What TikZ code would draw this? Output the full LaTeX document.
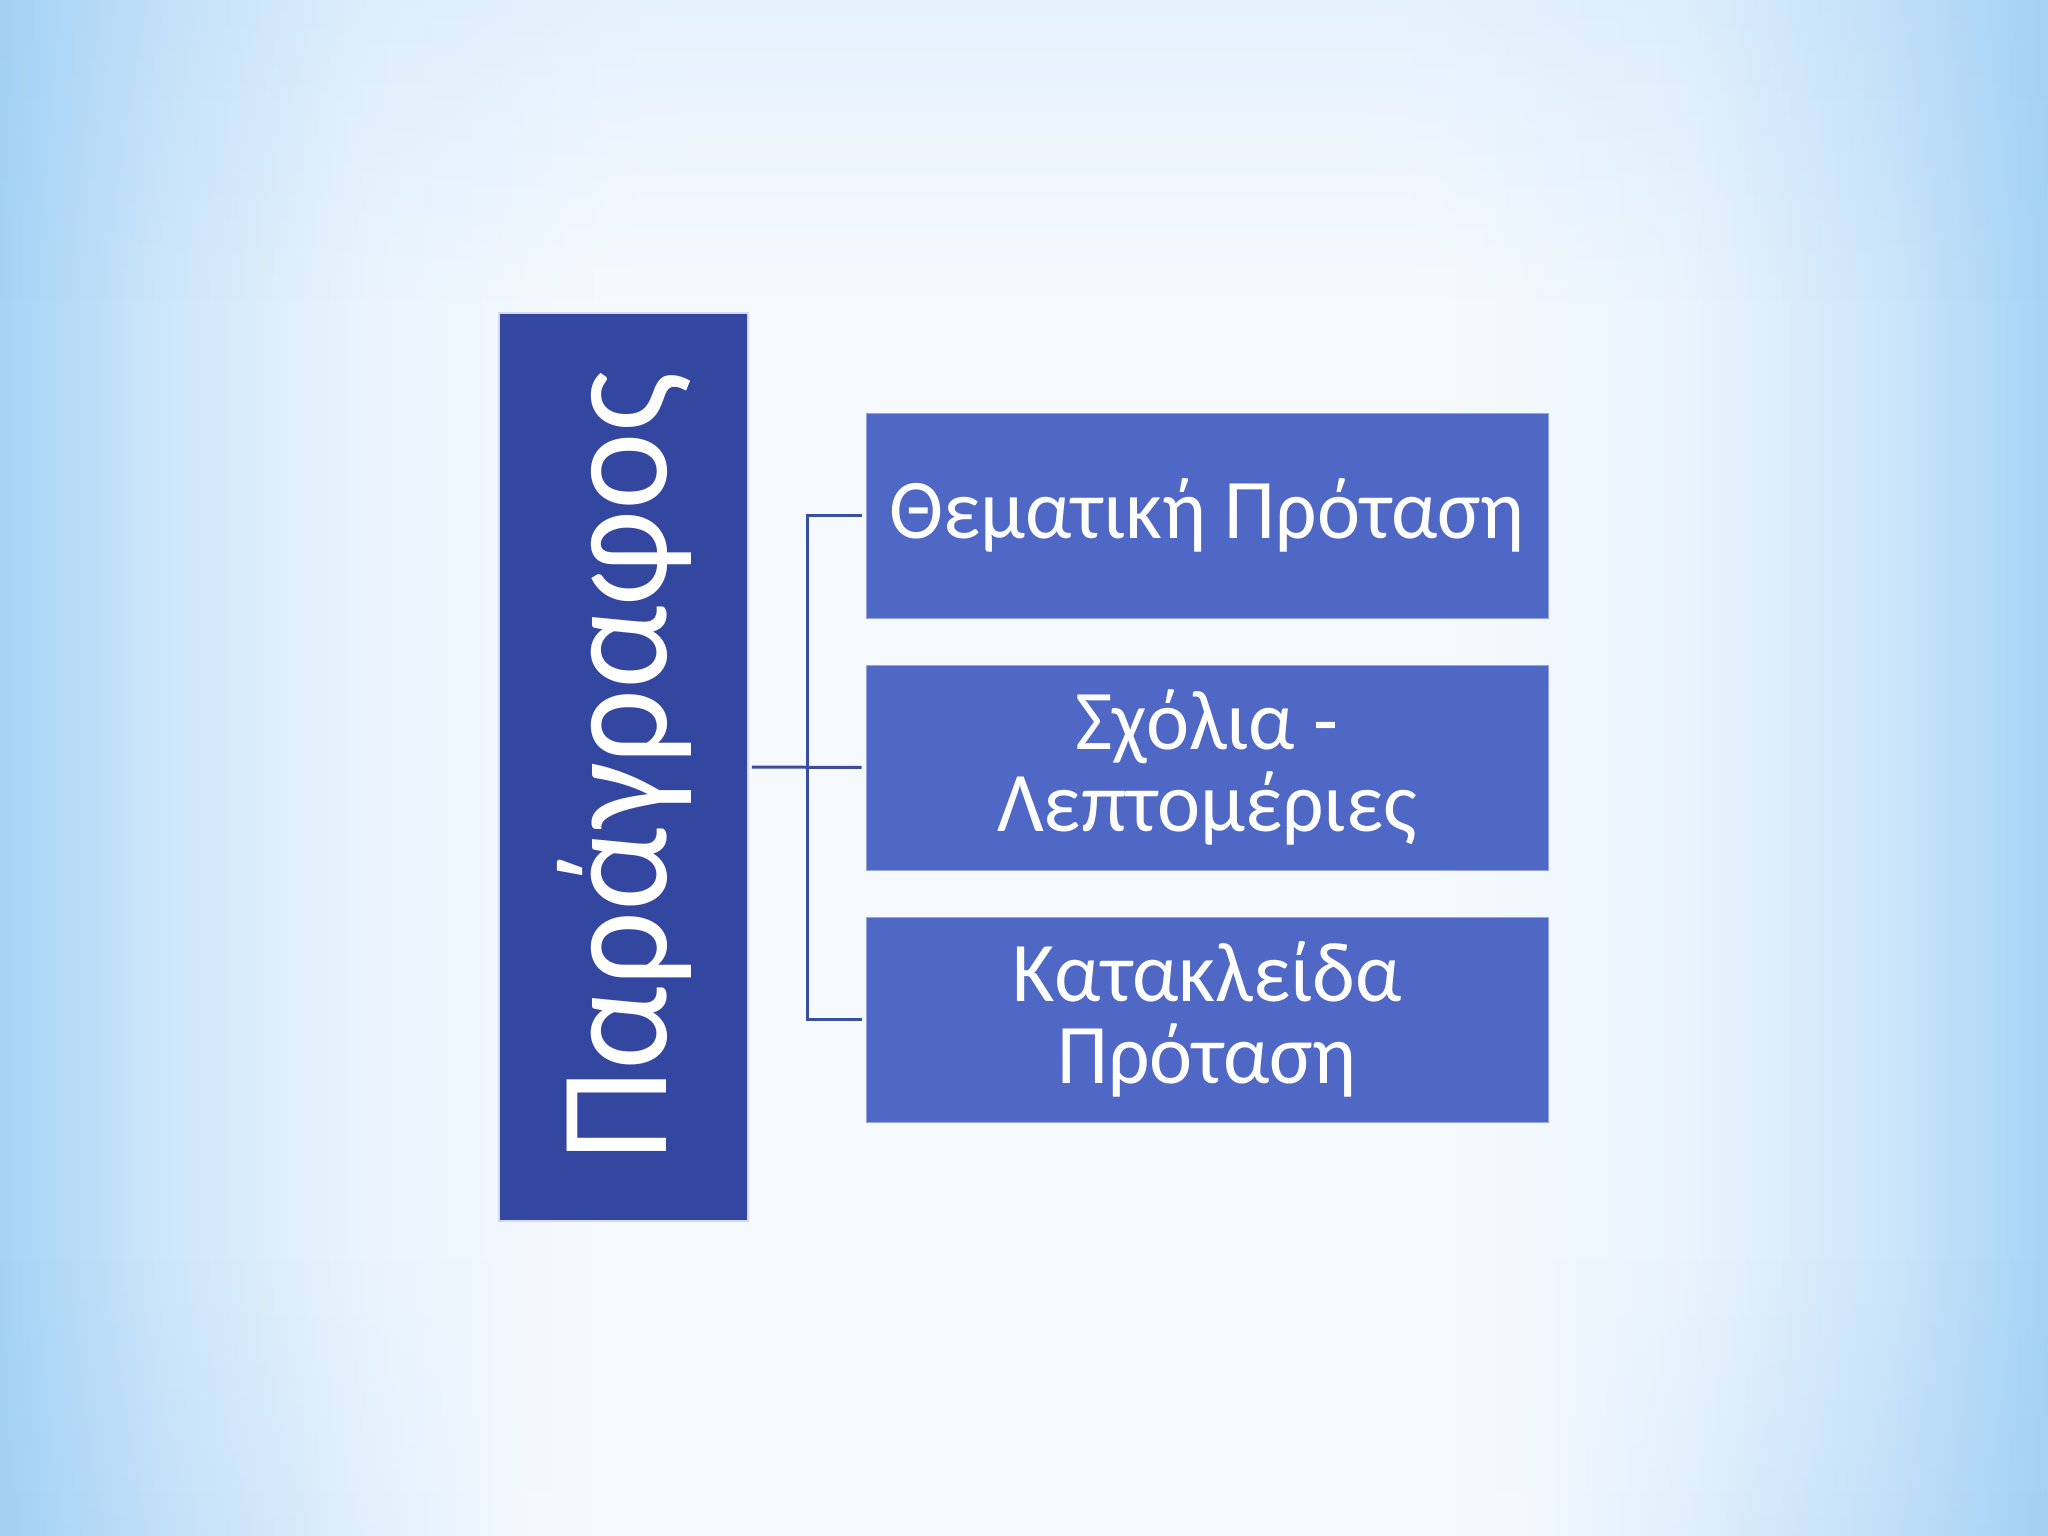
\documentclass[tikz,border=0pt]{standalone}
\usepackage{fontspec}
\setmainfont{Carlito}
\newfontfamily\boxfont[FakeStretch=0.96]{Carlito}
\newfontfamily\vertfont[FakeStretch=0.95]{Carlito}
\usetikzlibrary{fadings}
\definecolor{darkbox}{RGB}{51,71,160}
\definecolor{lightbox}{RGB}{79,104,197}
\definecolor{connc}{RGB}{56,78,162}
\definecolor{bgedge}{RGB}{165,211,246}
\definecolor{bgsoft}{RGB}{205,230,250}
\definecolor{bgpale}{RGB}{234,244,253}
\definecolor{bgcenter}{RGB}{246,250,255}
\definecolor{bgband}{RGB}{160,206,244}
\definecolor{bgbandmid}{RGB}{214,233,250}
% TikZ maps the path onto 25bp..75bp of the shading
\pgfdeclarehorizontalshading{bgh}{100bp}{color(0bp)=(bgedge); color(25bp)=(bgedge); color(29bp)=(bgsoft); color(34bp)=(bgpale); color(40bp)=(bgcenter); color(60bp)=(bgcenter); color(66bp)=(bgpale); color(71bp)=(bgsoft); color(75bp)=(bgedge); color(100bp)=(bgedge)}
\pgfdeclarehorizontalshading{bandh}{100bp}{color(0bp)=(bgband); color(25bp)=(bgband); color(33bp)=(bgsoft); color(42bp)=(bgbandmid); color(58bp)=(bgbandmid); color(67bp)=(bgsoft); color(75bp)=(bgband); color(100bp)=(bgband)}
\pgfdeclarehorizontalshading{corh}{100bp}{color(0bp)=(bgband); color(25bp)=(bgband); color(38bp)=(bgcenter); color(62bp)=(bgcenter); color(75bp)=(bgband); color(100bp)=(bgband)}
\tikzfading[name=bandfade, top color=transparent!100, middle color=transparent!0, bottom color=transparent!100]
\tikzfading[name=topfade, top color=transparent!50, bottom color=transparent!100]
\tikzfading[name=botfade, top color=transparent!100, bottom color=transparent!40]
\tikzset{
  darkboxstyle/.style={fill=darkbox, draw=white!80!darkbox, line width=1.5pt, inner sep=0pt},
  lightboxstyle/.style={fill=lightbox, draw=white!40!lightbox, line width=1pt, inner sep=0pt,
     minimum width=682pt, minimum height=205pt, text=white, align=center,
     font=\boxfont\fontsize{85}{82}\selectfont},
  vtextstyle/.style={text=white, inner sep=0pt, font=\vertfont\fontsize{155}{160}\selectfont},
  conn/.style={draw=connc, line width=3pt}
}
\begin{document}
\begin{tikzpicture}[x=1pt,y=-1pt]
\useasboundingbox (0,0) rectangle (2048,1536);
% background
\shade[shading=bgh] (0,0) rectangle (2048,1536);
\shade[shading=bandh, path fading=topfade] (0,0) rectangle (2048,300);
\shade[shading=bandh, path fading=bandfade] (0,1080) rectangle (2048,1240);
\shade[shading=corh, path fading=botfade] (0,1260) rectangle (2048,1536);
% main box
\node[darkboxstyle, minimum width=249pt, minimum height=908pt] (para) at (623.5,767) {};
\node[vtextstyle, rotate=90, anchor=base] (paratext) at (666,767) {Παράγραφος};
% child boxes
\node[lightboxstyle] (b1) at (1207,515.5) {Θεματική Πρόταση};
\node[lightboxstyle] (b2) at (1207,767.5) {Σχόλια -\\Λεπτομέριες};
\node[lightboxstyle] (b3) at (1207,1019.5) {Κατακλείδα\\Πρόταση};
% connectors
\coordinate (jt) at (807,515.5);
\coordinate (jb) at (807,1019.5);
\draw[conn, shorten <=3pt, shorten >=4pt] (para.east) -- (b2.west);
\draw[conn, line cap=butt] ([xshift=-4pt]b1.west) -- (jt) -- (jb) -- ([xshift=-4pt]b3.west);
\end{tikzpicture}
\end{document}
